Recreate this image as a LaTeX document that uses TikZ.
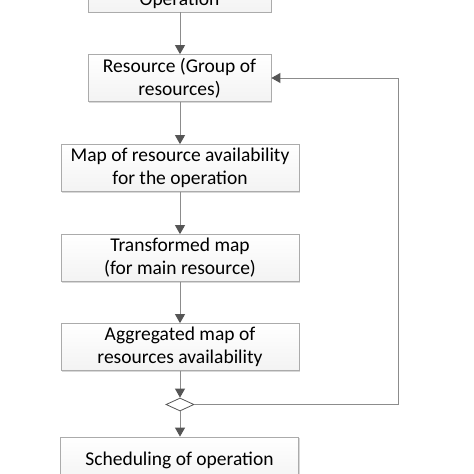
\documentclass[tikz,border=0pt]{standalone}
\usepackage{fontspec}
\setmainfont{Carlito}
\usetikzlibrary{shapes.geometric,arrows.meta,shadows}
\definecolor{boxfill}{HTML}{F3F3F3}
\definecolor{boxline}{HTML}{ABABAB}
\definecolor{arrline}{HTML}{8C8C8C}
\definecolor{arrhead}{HTML}{555555}
\begin{document}
\begin{tikzpicture}[x=1pt,y=-1pt,
  flowbox/.style={draw=boxline,line width=0.8pt,top color=white,bottom color=boxfill,
    inner sep=0pt,align=center,font=\fontsize{19.5}{23}\selectfont,
    drop shadow={shadow xshift=1.2pt,shadow yshift=-1.2pt,fill=black!25,opacity=0.6}},
  flowarrow/.style={draw=arrline,line width=0.9pt,-{Triangle[length=9pt,width=10pt,fill=arrhead,color=arrhead]}},
  flowline/.style={draw=arrline,line width=0.9pt}]
\useasboundingbox (0,0) rectangle (474,474);
\fill[white] (0,0) rectangle (474,474);
% boxes
\node[flowbox,minimum width=183pt,minimum height=47pt] (op) at (179.5,-11.5) {};
\node[anchor=base,inner sep=0pt] (optext) at (179.5,5) {\fontsize{19.5}{23}\selectfont Operation};
\node[flowbox,minimum width=183pt,minimum height=47pt] (res) at (179.5,78) {Resource (Group of\\resources)};
\node[flowbox,minimum width=238pt,minimum height=47pt] (map) at (180,168) {Map of resource availability\\for the operation};
\node[flowbox,minimum width=238pt,minimum height=47pt] (trans) at (180,258) {Transformed map\\(for main resource)};
\node[flowbox,minimum width=238pt,minimum height=47pt] (agg) at (180,347) {Aggregated map of\\resources availability};
\node[diamond,draw=arrhead,fill=white,line width=0.8pt,minimum width=28pt,minimum height=13pt,inner sep=0pt] (dec) at (180,404.5) {};
\node[flowbox,minimum width=238pt,minimum height=46pt] (sched) at (179.5,460) {Scheduling of operation};
\coordinate (c1) at (398,404.5);
\coordinate (c2) at (398,78);
% connectors
\draw[flowarrow] (op.south -| 180,0) -- (res.north -| 180,0);
\draw[flowarrow] (res.south -| 180,0) -- (map.north);
\draw[flowarrow] (map.south) -- (trans.north);
\draw[flowarrow] (trans.south) -- (agg.north);
\draw[flowarrow] (agg.south) -- (dec.north);
\draw[flowarrow] (dec.south) -- (sched.north -| 180,0);
\draw[flowline] (dec.east) -- (c1) -- (c2);
\draw[flowarrow] (c2) -- (res.east |- c2);
\end{tikzpicture}
\end{document}
